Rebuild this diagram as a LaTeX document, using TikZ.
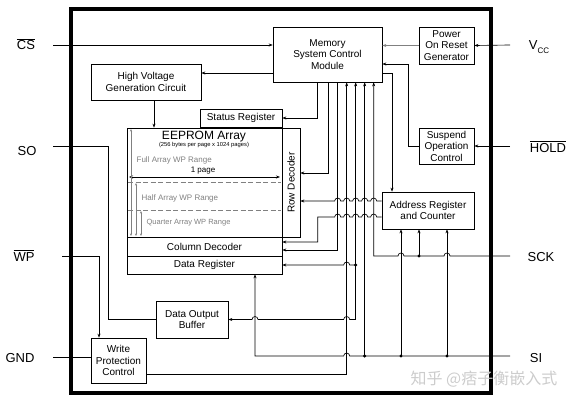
\documentclass[tikz,border=0pt]{standalone}
\usepackage{fontspec}
\setmainfont{Liberation Sans}
\newfontfamily\cjk{Noto Sans CJK SC}
\usepackage{tikz}
\usetikzlibrary{arrows.meta,calc}
\tikzset{
  block/.style={draw,inner sep=1pt,align=center,font=\fontsize{10}{11.5}\selectfont},
  sig/.style={-{Stealth[length=4pt,width=3pt]}},
  pinlabel/.style={anchor=base,font=\fontsize{13}{13}\selectfont},
  wprange/.style={gray,line width=0.4pt,{Stealth[length=2.5pt,width=2pt]}-{Stealth[length=2.5pt,width=2pt]}},
  wptext/.style={gray,anchor=west,font=\fontsize{8}{8}\selectfont},
  wpdash/.style={gray,line width=0.5pt,dash pattern=on 5pt off 2.5pt}
}

\begin{document}
\begin{tikzpicture}[x=1pt,y=-1pt,line width=0.65pt]
    \useasboundingbox (0,0) rectangle (578,404);
    % chip outline
    \draw[line width=3.5pt] (71,9) rectangle (491,393);

    % blocks
    \node[block,minimum width=109pt,minimum height=55pt] (mem) at (327.5,54.5) {Memory\\System Control\\Module};
    \node[block,minimum width=55pt,minimum height=37pt] (por) at (446.5,45.5) {Power\\On Reset\\Generator};
    \node[block,minimum width=110pt,minimum height=36pt] (hv) at (146,82) {High Voltage\\Generation Circuit};
    \node[block,minimum width=82pt,minimum height=18pt] (stat) at (241,118) {Status Register};
    \node[block,minimum width=155pt,minimum height=109pt] (arr) at (204.5,182.5) {};
    \node[block,minimum width=18pt,minimum height=109pt] (rowdec) at (291,182.5) {};
    \node[rotate=90,font=\fontsize{10}{10}\selectfont] (rowdectext) at (rowdec) {Row Decoder};
    \node[block,minimum width=155pt,minimum height=19pt] (coldec) at (204.5,246.5) {Column Decoder};
    \node[block,minimum width=155pt,minimum height=18pt] (datreg) at (204.5,265) {Data Register};
    \node[block,minimum width=55pt,minimum height=36pt] (sus) at (446.5,146) {Suspend\\Operation\\Control};
    \node[block,minimum width=92pt,minimum height=37pt] (addr) at (428,210.5) {Address Register\\and Counter};
    \node[block,minimum width=72pt,minimum height=37pt] (dob) at (192,319.5) {Data Output\\Buffer};
    \node[block,minimum width=55pt,minimum height=45pt] (wpc) at (118.5,360.5) {Write\\Protection\\Control};

    % inside the array
    \node[font=\fontsize{12}{12}\selectfont] (arrtitle) at (204,137) {EEPROM Array};
    \node[font=\fontsize{5.8}{6}\selectfont] (arrsub) at (204,145) {(256 bytes per page x 1024 pages)};
    \node[wptext] (fulltext) at (133,160) {Full Array WP Range};
    \node[wptext] (halftext) at (138,198) {Half Array WP Range};
    \node[wptext,font=\fontsize{7.5}{8}\selectfont] (quartext) at (143,223) {Quarter Array WP Range};
    \node[font=\fontsize{8}{8}\selectfont] (pagetext) at (203,171) {1 page};
    \draw[{Stealth[length=4pt,width=3pt]}-{Stealth[length=4pt,width=3pt]}] (129,177) -- (280,177);
    \draw[wpdash] (128,182) -- (281,182);
    \draw[wpdash] (128,210) -- (281,210);
    \draw[wprange] (131,129) -- (131,236);
    \draw[wprange] (136,183) -- (136,236);
    \draw[wprange] (141,211) -- (141,236);

    % pins
    \node[pinlabel] (cslbl) at (26,50) {$\overline{\hbox{CS}}$};
    \node[pinlabel] (solbl) at (27,155) {SO};
    \node[pinlabel] (wplbl) at (24,261) {$\overline{\hbox{WP}}$};
    \node[pinlabel] (gndlbl) at (20,362) {GND};
    \node[pinlabel] (vcclbl) at (539,50) {V\raisebox{-3pt}{\fontsize{8}{8}\selectfont CC}};
    \node[pinlabel] (holdlbl) at (548,152) {$\overline{\hbox{HOLD}}$};
    \node[pinlabel] (scklbl) at (541,261) {SCK};
    \node[pinlabel] (silbl) at (536,362) {SI};
    \coordinate (cs) at (53,45);
    \coordinate (so) at (53,146);
    \coordinate (wp) at (62,256);
    \coordinate (gnd) at (53,357);
    \coordinate (vcc) at (510,45);
    \coordinate (hold) at (510,146);
    \coordinate (sck) at (510,256);
    \coordinate (si) at (510,356);

    % bus lines under the control module
    \foreach \n/\dx in {mst/45,mrd/56,mcd/65,mwp/74,mdr/83,msi/92,msck/101}
      \coordinate (\n) at ([xshift=\dx pt]mem.south west);
    \coordinate (adA) at ([yshift=9.5pt]addr.west);
    \coordinate (adB) at ([yshift=-6.5pt]addr.west);
    \coordinate (rdA) at ([yshift=9.5pt]rowdec.east);
    \coordinate (rdB) at (rowdec.east |- adA);
    \coordinate (cdA) at ([yshift=4.5pt]coldec.east);
    \coordinate (cdB) at ([yshift=-3.5pt]coldec.east);
    \coordinate (hvin) at ([yshift=-18.5pt]mem.west);
    \coordinate (adin) at ([yshift=-18.5pt]mem.east);
    \coordinate (susin) at ([yshift=-9.5pt]mem.east);
    \coordinate (hvout) at ([xshift=8pt]hv.south);
    \coordinate (wpcout) at ([yshift=-13.5pt]wpc.east);
    \coordinate (wpin) at ([xshift=-19.5pt]wpc.north);
    \coordinate (drin) at ([xshift=50.5pt]datreg.south);
    \coordinate (adtop) at ([xshift=-36pt]addr.north);
    \coordinate (adsi1) at ([xshift=-27pt]addr.south);
    \coordinate (adsck) at ([xshift=-9pt]addr.south);
    \coordinate (adsi2) at ([xshift=19pt]addr.south);

    % connectors
    \draw[sig] (cs) -- (cs -| mem.west);
    \draw[sig] (vcc) -- (por.east);
    \draw[sig,gray] (por.west) -- (por.west -| mem.east);
    \draw[sig] (hold) -- (sus.east);
    \draw[sig] (sus.west) -- ++(-10,0) |- (susin);
    \draw[sig] (adin) -| (adtop);
    \draw[sig] (hvin) -- (hvin -| hv.east);
    \draw[sig] (hvout) -- (hvout |- arr.north);
    \draw[sig] (mst) |- (stat.east);
    \draw[sig] (mrd) |- (rdA);
    \draw[sig] (mcd) |- (cdB);
    \draw[sig] (adA) \foreach \b in {msck,msi,mdr,mwp,mcd} { -- ($(\b |- adA)+(3pt,0)$) arc (0:180:3pt) } -- (rdB);
    \draw[sig] (adB) \foreach \b in {msck,msi,mdr,mwp,mcd} { -- ($(\b |- adB)+(3pt,0)$) arc (0:180:3pt) } -- (mst |- adB) |- (cdA);
    \draw[sig] (mdr |- dob.east) -- (mdr);
    \draw[sig] (mdr |- datreg.east) -- ($(mwp |- datreg.east)+(3pt,0)$) arc (0:180:3pt) -- (datreg.east);
    \draw[sig] (mdr |- dob.east) -- ($(mwp |- dob.east)+(3pt,0)$) arc (0:180:3pt)
      -- ($(drin |- dob.east)+(3pt,0)$) arc (0:180:3pt) -- (dob.east);
    \draw[sig] (wpcout) -| (mwp);
    \draw[sig] (si) -- ($(mwp |- si)+(3pt,0)$) arc (0:180:3pt) -| (drin);
    \draw[sig] (msi |- si) -- (msi);
    \draw[sig] (adsi1 |- si) -- (adsi1);
    \draw[sig] (adsi2 |- si) -- (adsi2);
    \draw[sig] (sck) -- ($(adsi2 |- sck)+(3pt,0)$) arc (0:180:3pt)
      -- ($(adsi1 |- sck)+(3pt,0)$) arc (0:180:3pt) -| (msck);
    \draw[sig] (adsck |- sck) -- (adsck);
    \draw (dob.west) -| ([xshift=55pt]so) -- (so);
    \draw[sig] (wp) -| (wpin);
    \draw (gnd) -- (gnd -| wpc.west);

    % junctions
    \foreach \j in {(adsck |- sck),(msi |- si),(adsi1 |- si),(adsi2 |- si),(mdr |- datreg.east)}
      \fill \j circle (1.7pt);

    \node[font=\cjk\fontsize{16}{16}\selectfont,text=gray!40] (mark) at (484,379) {知乎 @痞子衡嵌入式};
\end{tikzpicture}
\end{document}
